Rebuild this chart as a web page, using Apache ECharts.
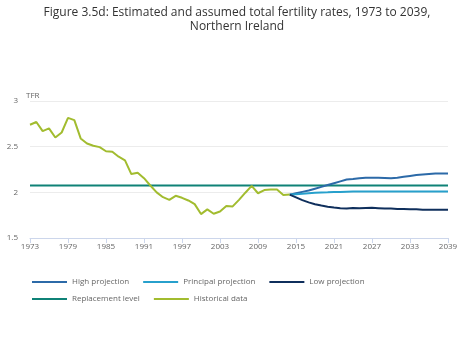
<!DOCTYPE html>
<html><head><meta charset="utf-8">
<script src="https://cdn.jsdelivr.net/npm/echarts@6/dist/echarts.min.js"></script>
<style>html,body{margin:0;padding:0;background:#fff}#c{width:474px;height:339px}</style>
</head><body><div id="c"></div>
<script>
var years = [];
for (var y = 1973; y <= 2039; y++) years.push(String(y));
var historical = [2.74,2.77,2.67,2.70,2.60,2.655,2.815,2.79,2.59,2.535,2.51,2.495,2.45,2.445,2.39,2.35,2.20,2.215,2.155,2.075,2.00,1.947,1.918,1.962,1.94,1.911,1.871,1.762,1.813,1.766,1.79,1.85,1.846,1.918,1.996,2.07,1.99,2.025,2.03,2.03,1.97,1.975];
var highProj = [1.975,1.99,2.005,2.02,2.04,2.06,2.08,2.10,2.12,2.14,2.145,2.155,2.16,2.16,2.16,2.158,2.155,2.16,2.17,2.18,2.19,2.195,2.20,2.205,2.207,2.207];
var principalProj = [1.975,1.98,1.985,1.99,1.995,1.998,2.0,2.003,2.005,2.007,2.008,2.009,2.01,2.01,2.01,2.01,2.01,2.01,2.01,2.01,2.01,2.01,2.01,2.01,2.01,2.01];
var lowProj = [1.975,1.945,1.915,1.89,1.87,1.855,1.842,1.833,1.826,1.824,1.828,1.826,1.828,1.83,1.826,1.822,1.822,1.818,1.817,1.816,1.814,1.81,1.81,1.81,1.81,1.81];
var replacementLevel = 2.075;
var projStart = 2014;

function pad(arr, startYear) {
  var out = [];
  for (var i = 0; i < years.length; i++) {
    var k = (1973 + i) - startYear;
    out.push(k >= 0 && k < arr.length ? arr[k] : null);
  }
  return out;
}
var replArr = years.map(function(){ return replacementLevel; });

var font = 'Open Sans';
var chart = echarts.init(document.getElementById('c'), null, {renderer:'canvas'});
var legendText = {color:'#666', fontSize:8, fontFamily:font};
chart.setOption({
  animation:false,
  title:{text:'Figure 3.5d: Estimated and assumed total fertility rates, 1973 to 2039,\nNorthern Ireland', left:'center', top:1,
    textStyle:{fontFamily:font, fontWeight:'normal', fontSize:12, color:'#333', lineHeight:14}},
  legend:[
    {data:['High projection','Principal projection','Low projection'], left:32, top:278, padding:0, itemWidth:35, itemHeight:2, itemGap:14,
      icon:'rect', textStyle:legendText},
    {data:['Replacement level','Historical data'], left:32, top:295, padding:0, itemWidth:35, itemHeight:2, itemGap:14,
      icon:'rect', textStyle:legendText}
  ],
  grid:{left:30, right:26, top:101, bottom:101, containLabel:false},
  xAxis:{type:'category', data:years, boundaryGap:false,
    axisLine:{lineStyle:{color:'#ccd6eb'}},
    axisTick:{interval:5, length:5, lineStyle:{color:'#ccd6eb'}},
    axisLabel:{interval:5, color:'#666', fontSize:8, fontFamily:font, margin:5}},
  yAxis:{type:'value', min:1.5, max:3, interval:0.5,
    name:'TFR', nameLocation:'end', nameGap:1, nameTextStyle:{align:'left', color:'#666', fontSize:8, fontFamily:font, padding:[0,0,0,-4]},
    axisLine:{show:false}, axisTick:{show:false},
    axisLabel:{color:'#666', fontSize:8, fontFamily:font, margin:12},
    splitLine:{lineStyle:{color:'#ececec'}}},
  series:[
    {name:'High projection', type:'line', data:pad(highProj, projStart), symbol:'none', lineStyle:{width:2, color:'#2c6aa8'}, itemStyle:{color:'#2c6aa8'}},
    {name:'Principal projection', type:'line', data:pad(principalProj, projStart), symbol:'none', lineStyle:{width:2, color:'#27a0cc'}, itemStyle:{color:'#27a0cc'}},
    {name:'Low projection', type:'line', data:pad(lowProj, projStart), symbol:'none', lineStyle:{width:2, color:'#0f2f5c'}, itemStyle:{color:'#0f2f5c'}},
    {name:'Replacement level', type:'line', data:replArr, symbol:'none', lineStyle:{width:2, color:'#0f8277'}, itemStyle:{color:'#0f8277'}, z:1},
    {name:'Historical data', type:'line', data:pad(historical, 1973), symbol:'none', lineStyle:{width:2, color:'#a2bc2f'}, itemStyle:{color:'#a2bc2f'}}
  ]
});
</script></body></html>
